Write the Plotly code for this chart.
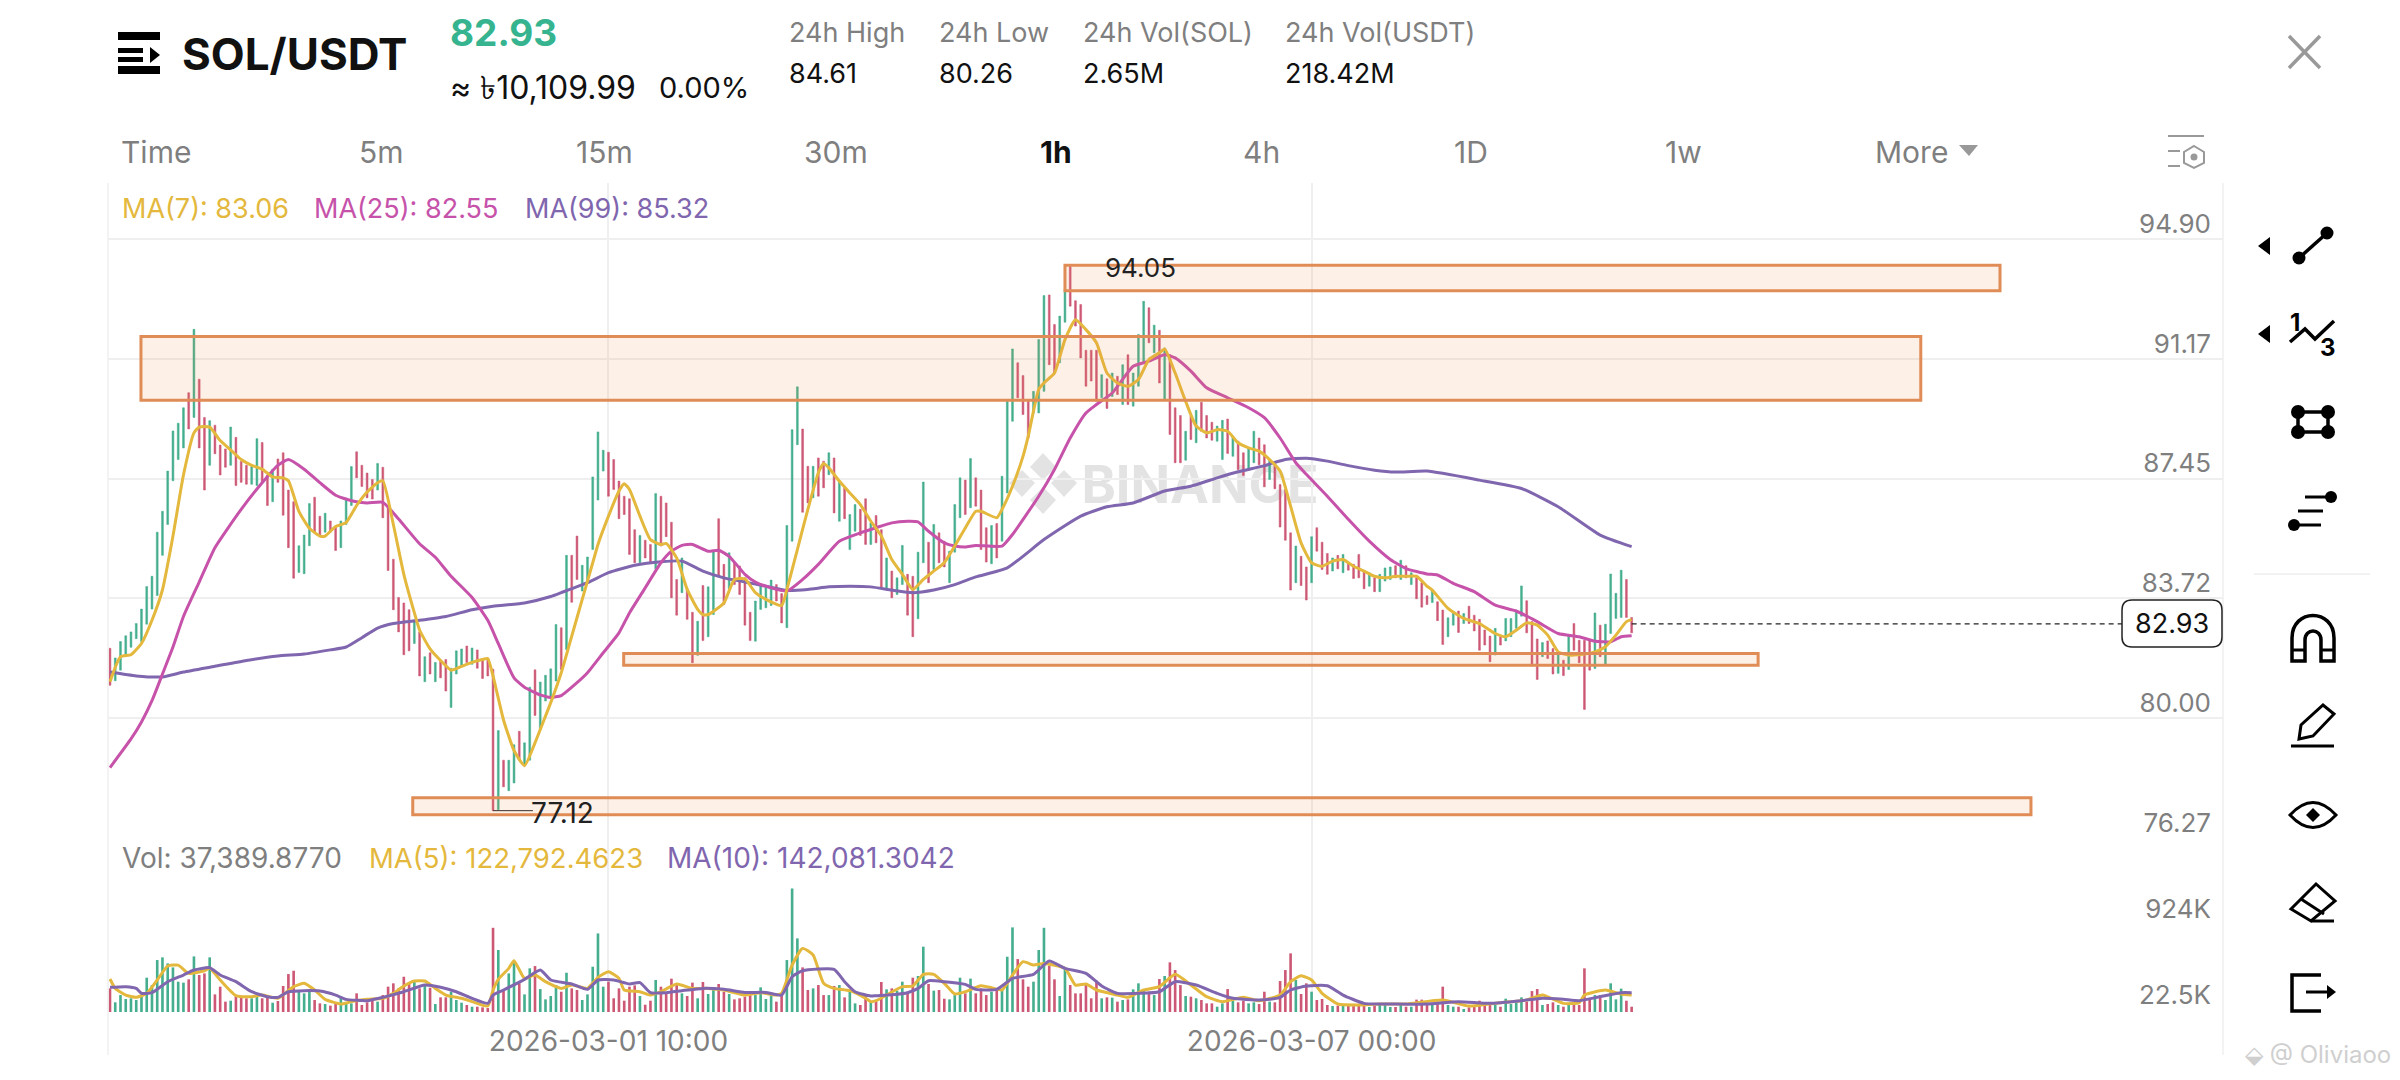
import pandas as pd
import plotly.graph_objects as go

# Candles, one per hour
start_time = pd.Timestamp('2026-02-25 11:00')

candle_high = [
    82.17,81.87,82.38,82.56,82.68,82.94,83.39,84.09,84.41,85.78,
    86.43,87.68,88.93,89.17,89.65,90.12,92.09,90.54,89.35,89.25,
    89.11,88.49,88.37,89.05,88.73,87.98,87.86,87.82,88.69,88.57,
    87.56,87.74,88.06,88.25,87.09,86.73,85.36,85.69,86.67,86.87,
    86.28,86.37,86.13,85.96,86.13,86.79,87.82,88.28,87.86,87.62,
    87.42,87.92,87.80,86.55,84.94,83.75,83.58,83.37,83.04,82.68,
    81.91,82.03,81.73,81.79,81.82,81.55,82.09,82.15,82.24,82.18,
    82.12,81.85,81.85,81.52,79.61,78.69,78.69,79.17,79.59,79.23,
    80.96,81.50,81.12,81.33,81.53,82.91,82.81,85.06,85.06,85.66,
    84.75,85.01,87.50,88.90,88.33,88.27,88.04,87.37,86.90,86.82,
    85.86,85.68,85.53,85.40,86.98,86.90,86.69,86.09,84.31,84.98,
    84.02,83.29,83.01,84.12,84.08,85.19,86.20,84.78,85.14,84.83,
    84.73,84.36,83.29,83.64,84.10,84.05,84.29,84.15,83.87,85.99,
    88.97,90.30,88.99,87.83,87.83,88.09,87.99,88.25,88.09,87.37,
    87.16,86.33,86.64,86.49,86.82,86.07,86.30,85.86,84.98,84.57,
    84.36,85.37,84.47,84.41,85.16,87.34,85.47,86.02,85.76,85.50,
    85.19,86.64,87.47,87.40,88.07,87.47,87.09,85.92,85.99,86.05,
    87.52,89.85,91.48,91.05,90.65,89.85,90.16,91.77,93.14,93.16,
    92.24,92.50,93.33,94.05,92.98,92.86,91.44,91.44,91.44,90.68,
    90.55,90.73,90.63,90.99,91.30,90.73,91.93,92.96,92.76,92.22,
    92.06,91.51,91.30,89.65,89.41,88.92,89.39,89.57,89.82,89.41,
    89.20,89.08,89.26,89.30,88.74,88.61,88.25,88.40,88.92,88.71,
    88.50,88.04,87.94,87.26,87.11,85.76,85.35,85.03,84.70,85.64,
    85.92,85.47,85.12,84.98,85.06,85.09,84.83,84.78,85.09,84.57,
    84.52,84.36,84.47,84.67,84.70,84.74,84.91,84.74,84.52,84.36,
    84.21,83.80,83.98,83.62,83.36,83.12,83.31,83.33,83.25,83.48,
    83.20,83.07,82.74,82.55,82.79,82.53,83.10,83.10,83.36,84.11,
    83.65,83.00,82.46,82.35,82.40,82.16,81.99,81.80,82.58,82.94,
    82.42,82.42,82.45,83.27,82.89,82.92,84.48,83.88,84.60,84.31,
    83.13,
]
candle_low = [
    81.02,81.16,81.49,81.97,82.20,82.47,82.38,82.92,83.39,83.81,
    85.06,86.02,87.38,88.04,88.40,88.99,89.35,88.40,87.09,87.86,
    88.22,87.56,87.80,87.86,87.23,87.33,87.27,87.27,87.23,87.33,
    86.61,86.73,87.33,86.31,85.30,84.35,84.53,84.49,85.36,85.78,
    85.66,85.78,85.78,85.21,85.30,86.02,86.61,87.47,87.20,86.85,
    86.81,87.09,86.23,84.59,83.37,82.68,81.97,82.09,82.32,81.31,
    81.13,81.37,81.13,81.25,80.84,80.33,81.37,81.61,81.73,81.67,
    81.55,81.23,81.31,77.12,77.15,77.86,77.74,77.98,78.69,78.52,
    78.69,80.08,79.65,80.53,80.68,81.15,81.51,82.13,83.60,84.31,
    83.95,84.21,85.24,86.78,87.68,86.90,87.11,86.20,86.33,85.09,
    84.83,84.83,84.98,84.83,84.64,85.35,85.64,83.74,83.20,83.90,
    83.07,81.72,81.95,82.41,82.53,83.22,84.41,83.53,84.02,84.15,
    83.84,82.89,82.41,82.39,83.38,83.43,83.50,83.64,82.96,82.81,
    85.50,88.50,86.40,86.69,86.85,86.90,87.16,87.57,86.38,86.12,
    86.20,85.24,85.81,85.68,85.40,85.40,85.45,84.05,84.00,83.74,
    83.84,84.15,83.20,82.53,83.09,84.83,84.21,84.62,84.83,84.70,
    84.21,85.16,86.23,86.33,86.54,86.59,85.24,84.85,84.80,84.98,
    85.50,87.00,89.23,89.96,89.44,88.71,89.49,89.49,90.16,90.99,
    90.73,91.05,92.31,92.81,92.19,91.20,90.32,90.48,89.85,89.96,
    89.63,90.00,90.06,89.75,89.75,89.70,90.32,91.05,91.67,91.36,
    90.42,89.91,88.82,87.94,87.94,88.02,88.66,88.56,88.92,88.71,
    88.64,88.61,88.04,88.23,88.14,87.73,87.54,87.71,87.94,87.88,
    87.19,87.42,87.13,85.94,85.53,83.98,84.21,84.12,83.67,84.21,
    85.19,84.62,84.47,84.57,84.64,84.52,84.60,84.34,84.36,84.02,
    84.10,83.93,83.93,84.26,84.31,84.36,84.31,84.36,84.15,83.71,
    83.45,83.53,83.59,83.03,82.29,82.53,82.89,82.66,82.94,82.94,
    82.71,82.11,82.27,81.75,81.96,82.27,82.40,82.53,82.79,83.17,
    82.65,81.62,81.20,81.91,81.85,81.37,81.39,81.32,81.51,82.11,
    81.72,80.27,81.49,81.54,81.91,81.65,82.63,83.10,83.13,83.13,
    82.65,
]
candle_dir = (
    'RGGGGGGGGG' 'GGGGGRGRRG' 'RRRGRRRGGR' 'RGRRRRGGGR' 'RGRRGGGRRR'
    'RGRRRRRRGR' 'GRGRRGGGRG' 'RRRRGRGGRG' 'GRGGGGRGRR' 'GGGGGRRRRR'
    'RGRRGRRRRG' 'RRGRGGRRGR' 'RRRGGGGRRG' 'GGRRGRRGRG' 'RGGRRGRRGR'
    'GGRRGGRGRR' 'GGGRGRRRGR' 'GGGRRRGGGR' 'RGGRRRRRRG' 'RGRGRGGGRG'
    'RGRRRGRGRR' 'RGGRGRRGGR' 'RGRRRRGRRG' 'RRRGRGRRRR' 'GRGGGRGRGR'
    'RRGRRGGRGR' 'RRRRGRGGGG' 'RRRGRRGRGR' 'RRRGRGGGGRR'
)

# Volume per candle, thousands
volume = [
    270,124,200,159,166,148,183,382,305,567,595,532,490,340,330,365,605,410,427,595,
    207,288,131,141,200,183,166,166,200,166,200,120,138,295,420,455,235,218,235,148,
    113,106,89,106,176,106,113,218,96,124,166,131,200,288,323,270,392,323,358,270,
    305,277,106,176,176,235,148,120,96,78,78,71,64,905,672,253,427,550,323,207,
    480,504,263,155,190,305,235,434,270,253,148,207,497,846,288,340,166,270,141,288,
    302,190,99,141,358,288,218,372,305,218,190,330,166,337,211,253,316,235,211,155,
    166,183,200,200,281,159,200,131,200,567,1317,794,490,253,270,305,200,200,295,305,
    176,235,113,96,200,131,141,337,260,270,246,340,235,382,400,707,316,246,253,162,
    155,200,382,218,372,218,270,200,235,253,253,602,909,577,365,288,340,672,905,508,
    365,190,480,305,218,218,305,166,351,166,176,173,131,148,155,260,323,260,235,200,
    368,400,543,462,305,190,183,166,148,113,113,78,113,263,141,124,141,113,124,106,
    235,131,124,347,462,637,358,211,323,235,148,159,96,85,89,89,85,85,92,96,
    75,89,106,106,75,75,113,78,78,152,152,106,96,106,288,96,78,78,54,71,
    85,141,96,127,96,78,162,106,141,176,131,242,263,96,106,124,96,78,120,96,
    96,480,166,200,200,148,323,155,267,141,78,
]

# Moving averages: candle number, value
ma7_idx = [0,2,4,6,8,10,12,14,16,17,19,21,23,25,27,29,31,33,34,36,38,40,41,43,45,47,49,51,52,54,56,58,59,61,63,65,67,69,71,72,73,75,77,79,81,83,
           84,86,88,90,92,93,95,97,98,99,101,103,105,106,108,110,112,113,114,117,119,121,123,125,128,129,131,133,135,136,137,139,141,143,145,147,149,151,153,155,157,159,161,163,165,
           166,169,170,172,174,175,177,178,180,182,184,186,188,190,192,194,196,198,200,201,203,205,207,209,211,213,215,217,219,221,223,225,227,229,231,233,235,237,239,241,243,245,247,249,251,
           252,255,258,261,264,266,268,270,272,274,276,278,281,283,285,287,289,290]
ma7_val = [81.13,81.91,81.97,82.32,83.04,83.99,85.66,87.56,88.87,89.05,89.05,88.63,88.34,88.04,87.86,87.74,87.5,87.47,87.38,86.43,85.9,85.66,85.66,85.96,86.08,86.61,87.03,87.32,87.38,86.02,84.47,83.28,82.74,82.15,81.79,81.49,81.61,81.73,81.82,81.85,81.31,79.94,78.99,78.52,79.23,80.06,
           80.48,81.41,82.55,83.69,84.83,85.4,86.28,87.06,87.29,87.11,86.28,85.55,85.4,85.43,84.98,84.0,83.38,83.22,83.22,83.58,84.31,84.33,83.9,83.69,83.5,84.0,85.24,86.49,87.63,87.92,87.78,87.37,87.0,86.64,86.12,85.66,84.93,84.47,84.0,84.31,84.57,84.83,85.35,85.91,86.43,
           86.43,86.23,86.49,87.21,88.14,88.77,90.22,90.42,90.73,91.77,92.39,92.08,91.67,90.73,90.42,90.32,90.53,91.15,91.36,91.48,90.73,89.85,89.08,88.87,88.97,88.92,88.56,88.4,88.3,88.04,87.68,86.59,85.45,84.83,84.72,84.88,84.93,84.72,84.57,84.41,84.36,84.41,84.41,84.41,84.1,
           83.98,83.41,83.1,82.94,82.63,82.53,82.73,82.96,82.89,82.58,82.06,81.96,81.99,82.06,82.22,82.58,83.0,83.06]

ma25_idx = [0,4,6,8,10,12,14,17,20,25,29,32,34,37,40,43,46,49,52,55,59,62,65,69,72,74,77,79,82,84,
            86,89,91,94,97,99,102,105,107,109,111,114,116,118,121,123,126,129,132,135,139,143,146,149,152,154,156,159,161,163,165,
            170,172,177,180,183,186,188,191,195,198,201,203,206,209,213,217,220,223,226,228,232,236,240,244,247,251,
            253,256,260,264,268,272,276,280,283,286,288,290]
ma25_val = [78.46,79.35,79.88,80.54,81.37,82.21,83.16,84.23,85.3,86.49,87.32,87.86,88.04,87.74,87.32,86.93,86.76,86.69,86.71,86.19,85.42,85.0,84.41,83.75,83.04,82.32,81.25,80.96,80.72,80.64,
            80.7,81.1,81.41,82.03,82.65,83.27,84.05,84.83,85.19,85.37,85.4,85.19,85.22,85.03,84.47,84.23,84.05,83.95,84.31,84.78,85.5,85.76,85.92,86.07,86.12,86.1,85.81,85.45,85.35,85.32,85.37,
            85.35,85.71,86.9,87.73,88.71,89.49,89.75,90.11,90.94,91.1,91.3,91.2,90.79,90.27,89.96,89.65,89.34,88.71,87.94,87.58,86.9,86.18,85.5,84.93,84.65,84.48,
            84.45,84.19,83.93,83.51,83.33,83.0,82.63,82.53,82.39,82.37,82.53,82.56]

ma99_idx = [0,5,10,14,20,26,32,37,42,45,48,51,54,59,64,69,73,79,84,
            86,91,95,100,105,109,113,117,121,125,129,133,137,141,145,149,153,157,161,165,
            171,178,185,190,195,201,206,211,215,220,224,228,232,236,241,245,251,261,269,276,284,290]
ma99_val = [81.43,81.31,81.28,81.43,81.61,81.79,81.93,81.99,82.12,82.21,82.5,82.8,82.94,83.04,83.16,83.37,83.48,83.58,83.78,
            83.9,84.21,84.52,84.75,84.86,84.88,84.57,84.36,84.23,84.1,83.97,84.0,84.08,84.1,84.08,83.98,83.9,83.98,84.15,84.39,
            84.67,85.55,86.28,86.57,86.69,87.06,87.21,87.47,87.66,87.85,88.04,88.08,87.99,87.85,87.71,87.65,87.68,87.4,87.14,86.57,85.69,85.33]

vol_ma5_idx = [0,1,3,5,7,9,11,13,15,18,19,21,24,27,29,32,35,37,39,41,44,46,49,52,54,56,58,60,62,64,67,69,72,
               73,74,76,77,79,81,83,86,88,91,93,95,97,98,101,103,105,108,111,114,117,121,124,127,128,130,132,134,136,138,141,144,145,
               146,148,151,153,155,157,159,161,163,166,168,170,172,174,176,178,182,184,186,188,192,194,197,200,203,206,209,212,216,219,
               223,225,227,229,231,234,238,242,247,254,259,265,270,273,277,280,281,285,288,290]
vol_ma5_val = [368,270,200,176,218,358,504,514,427,455,480,358,194,183,200,166,288,323,253,155,106,131,155,166,218,295,347,347,270,200,166,131,85,
               253,365,480,560,375,410,340,270,305,270,385,445,375,253,235,200,235,316,270,270,253,200,225,200,218,515,689,620,323,270,246,166,131,
               141,200,288,295,417,417,323,211,235,298,277,253,410,550,515,532,480,305,316,253,200,176,253,288,417,305,183,131,176,141,
               200,340,402,358,218,106,96,106,106,148,85,120,148,200,113,120,200,253,211,200]

vol_ma10_idx = [0,3,5,6,8,11,14,16,19,21,24,27,30,32,34,37,40,43,45,49,52,56,60,63,66,69,72,
                73,75,79,82,84,88,91,93,96,99,101,103,106,109,113,117,121,125,128,130,132,138,140,142,145,
                146,149,152,154,156,159,163,165,169,172,176,179,182,186,189,192,196,200,203,207,211,214,219,
                221,223,225,228,232,235,239,245,251,257,263,269,273,277,280,284,288,290]
vol_ma10_val = [281,288,270,218,225,340,410,462,487,410,340,235,183,176,235,246,242,200,155,141,176,235,305,281,235,166,113,
                200,253,365,462,358,316,260,358,358,316,330,225,225,246,270,260,228,228,200,392,455,469,340,235,190,
                194,204,225,270,350,340,312,260,260,375,417,557,480,427,295,218,218,235,340,305,218,166,148,
                155,176,253,295,298,200,113,106,106,131,113,141,166,155,141,183,225,225]

# Drawn zones: candle number of the ends, price of the edges
zone_left = [182.0, 5.9, 97.9, 57.7]
zone_right = [360.2, 345.1, 314.1, 366.1]
zone_top = [94.08, 91.87, 82.01, 77.52]
zone_bottom = [93.29, 89.88, 81.64, 76.99]

price_ticks = [94.90, 91.17, 87.45, 83.72, 80.00, 76.27]
price_labels = ['94.90', '91.17', '87.45', '83.72', '80.00', '76.27']
vol_ticks = [924, 22.5]
vol_labels = ['924K', '22.5K']
date_ticks = ['2026-03-01 10:00', '2026-03-07 00:00']
last_price = 82.93

GREEN = '#45ae8e'
RED = '#cd5875'
YELLOW = '#e4b83c'
MAGENTA = '#c652aa'
PURPLE = '#7f66ae'
GREY = '#7f7f7f'
GRID = '#efefef'
ORANGE = '#e08c56'
FONT = 'Inter'
W, H = 2400, 1080
RIGHT = 2223
TB = -7  # toolbar column offset


def when(i):
    return start_time + pd.Timedelta(hours=i)


times = [when(i) for i in range(len(candle_high))]
colors = [GREEN if c == 'G' else RED for c in candle_dir]
c_open = [l if c == 'G' else h for l, h, c in zip(candle_low, candle_high, candle_dir)]
c_close = [h if c == 'G' else l for l, h, c in zip(candle_low, candle_high, candle_dir)]

fig = go.Figure()
fig.add_trace(go.Candlestick(
    x=times, open=c_open, high=candle_high, low=candle_low, close=c_close,
    increasing=dict(line=dict(color=GREEN, width=0.5), fillcolor=GREEN),
    decreasing=dict(line=dict(color=RED, width=0.5), fillcolor=RED),
    showlegend=False, hoverinfo='skip', xaxis='x', yaxis='y'))


def add_line(idx, val, color, xaxis='x', yaxis='y', width=3):
    fig.add_trace(go.Scatter(
        x=[when(i) for i in idx], y=val, mode='lines',
        line=dict(color=color, width=width, shape='spline', smoothing=0.5),
        showlegend=False, hoverinfo='skip', xaxis=xaxis, yaxis=yaxis))


add_line(ma99_idx, ma99_val, PURPLE)
add_line(ma25_idx, ma25_val, MAGENTA)
add_line(ma7_idx, ma7_val, YELLOW)

# last price line and the high / low leaders
fig.add_trace(go.Scatter(
    x=[when(290), when(383.5)], y=[last_price, last_price], mode='lines',
    line=dict(color='#222222', width=1.3, dash='5px,4px'),
    showlegend=False, hoverinfo='skip'))
fig.add_trace(go.Scatter(
    x=[when(73), when(80.6)], y=[77.12, 77.12], mode='lines',
    line=dict(color='#222222', width=1),
    showlegend=False, hoverinfo='skip'))

fig.add_trace(go.Bar(
    x=times, y=volume, marker=dict(color=colors, line=dict(width=0)), width=1.8e6,
    showlegend=False, hoverinfo='skip', xaxis='x2', yaxis='y2'))
add_line(vol_ma5_idx, vol_ma5_val, YELLOW, 'x2', 'y2')
add_line(vol_ma10_idx, vol_ma10_val, PURPLE, 'x2', 'y2')


def px(x, y):
    return f'{x / W:.5f},{1 - y / H:.5f}'


shapes = []


def path(points, color='#000000', width=3, fill=None, close=False, layer='above'):
    d = 'M' + ' L'.join(px(*p) for p in points) + (' Z' if close else '')
    shapes.append(dict(type='path', path=d, xref='paper', yref='paper', layer=layer,
                       line=dict(color=color, width=width), fillcolor=fill))


def raw_path(parts, color='#000000', width=3, fill=None, layer='above'):
    d = ' '.join(parts)
    shapes.append(dict(type='path', path=d, xref='paper', yref='paper', layer=layer,
                       line=dict(color=color, width=width), fillcolor=fill))


def box(x0, y0, x1, y1, fill='#000000', line=0, color=None):
    shapes.append(dict(type='rect', xref='paper', yref='paper', x0=x0 / W, x1=x1 / W,
                       y0=1 - y0 / H, y1=1 - y1 / H, fillcolor=fill,
                       line=dict(width=line, color=color or fill)))


def dot(x, y, r=6.5, fill='#000000'):
    shapes.append(dict(type='circle', xref='paper', yref='paper', x0=(x - r) / W, x1=(x + r) / W,
                       y0=1 - (y + r) / H, y1=1 - (y - r) / H, fillcolor=fill, line=dict(width=0)))


def tb(points):
    return [(x + TB, y) for x, y in points]


# zones
for l, r, t, b in zip(zone_left, zone_right, zone_top, zone_bottom):
    shapes.append(dict(type='rect', xref='x', yref='y', x0=when(l), x1=when(r), y0=b, y1=t,
                       fillcolor='rgba(240,140,70,0.13)', line=dict(color=ORANGE, width=3), layer='above'))

# frame of the chart
path([(108, 183), (108, 1055)], GRID, 1.5)
path([(RIGHT, 183), (RIGHT, 1055)], GRID, 1.5)

# watermark
shapes.append(dict(type='rect', xref='paper', yref='paper', layer='below',
                   x0=1080 / W, x1=1320 / W, y0=1 - 510 / H, y1=1 - 455 / H,
                   line=dict(width=0), fillcolor='rgba(0,0,0,0)',
                   label=dict(text='<b>BINANCE</b>', font=dict(family=FONT, size=52, color='#e3e3e3'),
                              textposition='middle center')))
path([(1043, 453), (1056, 467), (1043, 480), (1030, 467)], '#e3e3e3', 0, '#e3e3e3', True, 'below')
path([(1043, 487), (1056, 500), (1043, 514), (1030, 500)], '#e3e3e3', 0, '#e3e3e3', True, 'below')
path([(1022, 470), (1035, 483), (1022, 497), (1009, 483)], '#e3e3e3', 0, '#e3e3e3', True, 'below')
path([(1064, 470), (1077, 483), (1064, 497), (1051, 483)], '#e3e3e3', 0, '#e3e3e3', True, 'below')

# logo
box(118, 32, 160, 40)
box(118, 66, 160, 74)
box(118, 48, 143, 53)
box(118, 57, 143, 62)
path([(150, 47), (160, 55), (150, 63)], '#000000', 0, '#000000', True)

# close button, more arrow, settings icon
path([(2289, 36), (2320, 68)], '#999999', 3.5)
path([(2320, 36), (2289, 68)], '#999999', 3.5)
path([(1959, 145), (1978, 145), (1969, 156)], '#999999', 0, '#999999', True)
path([(2168, 136), (2204, 136)], '#999999', 2)
path([(2168, 151), (2180, 151)], '#999999', 2)
path([(2168, 166), (2180, 166)], '#999999', 2)
path([(2194, 146), (2204, 152), (2204, 163), (2194, 168), (2184, 163), (2184, 152)], '#999999', 2, None, True)
dot(2194, 157, 3.5, '#999999')

# price label box
raw_path([
    'M' + px(2132, 600), 'L' + px(2212, 600), 'Q' + px(2222, 600) + ' ' + px(2222, 610),
    'L' + px(2222, 637), 'Q' + px(2222, 647) + ' ' + px(2212, 647), 'L' + px(2132, 647),
    'Q' + px(2122, 647) + ' ' + px(2122, 637), 'L' + px(2122, 610), 'Q' + px(2122, 600) + ' ' + px(2132, 600), 'Z',
], '#222222', 1.5, '#ffffff')

# toolbar
path(tb([(2277, 237), (2277, 255), (2265, 246)]), '#000000', 0, '#000000', True)
path(tb([(2306, 258), (2334, 233)]), '#000000', 3.5)
dot(2306 + TB, 258)
dot(2334 + TB, 233)
path(tb([(2277, 325), (2277, 343), (2265, 334)]), '#000000', 0, '#000000', True)
path(tb([(2297, 342), (2312, 329), (2322, 339), (2341, 321)]), '#000000', 3.5)
path(tb([(2305, 412), (2335, 412), (2335, 432), (2305, 432)]), '#000000', 3.5, None, True)
for cx, cy in [(2305, 412), (2335, 412), (2305, 432), (2335, 432)]:
    dot(cx + TB, cy, 7)
path(tb([(2312, 497), (2337, 497)]), '#000000', 3)
path(tb([(2305, 511), (2330, 511)]), '#000000', 3)
path(tb([(2302, 525), (2328, 525)]), '#000000', 3)
dot(2338 + TB, 497, 6)
dot(2301 + TB, 525, 6)
path(tb([(2261, 574), (2377, 574)]), '#eeeeee', 1.5)
magnet = [(2299, 661), (2299, 638), (2299, 608), (2341, 608), (2341, 638), (2341, 661),
          (2328, 661), (2328, 640), (2328, 628), (2312, 628), (2312, 640), (2312, 661)]
m = [px(*p) for p in tb(magnet)]
raw_path(['M' + m[0], 'L' + m[1], 'C' + m[2] + ' ' + m[3] + ' ' + m[4], 'L' + m[5], 'L' + m[6], 'L' + m[7],
          'C' + m[8] + ' ' + m[9] + ' ' + m[10], 'L' + m[11], 'Z'], '#000000', 3.5)
path(tb([(2299, 650), (2312, 650)]), '#000000', 3)
path(tb([(2328, 650), (2341, 650)]), '#000000', 3)
path(tb([(2306, 739), (2308, 725), (2330, 705), (2341, 714), (2320, 736)]), '#000000', 3, None, True)
path(tb([(2298, 746), (2341, 746)]), '#000000', 3)
e = [px(*p) for p in tb([(2297, 815), (2320, 790), (2343, 815), (2320, 840)])]
raw_path(['M' + e[0], 'Q' + e[1] + ' ' + e[2], 'Q' + e[3] + ' ' + e[0], 'Z'], '#000000', 3)
path(tb([(2320, 808), (2327, 815), (2320, 822), (2313, 815)]), '#000000', 0, '#000000', True)
path(tb([(2298, 909), (2323, 884), (2342, 901), (2318, 921)]), '#000000', 3, None, True)
path(tb([(2308, 899), (2331, 914)]), '#000000', 3)
path(tb([(2318, 921), (2341, 921)]), '#000000', 3)
path(tb([(2328, 975), (2299, 975), (2299, 1011), (2328, 1011)]), '#000000', 3.5)
path(tb([(2313, 992), (2340, 992)]), '#000000', 3)
path(tb([(2334, 985), (2343, 992), (2334, 999)]), '#000000', 0, '#000000', True)

annotations = []


def label(x, y, text, size=27, color='#000000', anchor='left', bold=False, family=FONT):
    annotations.append(dict(
        x=x / W, y=1 - y / H, xref='paper', yref='paper', xanchor=anchor, yanchor='middle',
        text=f'<b>{text}</b>' if bold else text, showarrow=False,
        font=dict(family=family, size=size, color=color)))


label(180, 54, 'SOL/USDT', 44, '#111111', bold=True)
label(448, 32, '82.93', 37, '#35b48f', bold=True)
label(448, 87, '≈ ৳10,109.99', 32, '#111111')
label(657, 87, '0.00%', 29, '#111111')

header_x = [787, 937, 1081, 1283]
header_names = ['24h High', '24h Low', '24h Vol(SOL)', '24h Vol(USDT)']
header_vals = ['84.61', '80.26', '2.65M', '218.42M']
for hx, hn, hv in zip(header_x, header_names, header_vals):
    label(hx, 32, hn, 27, GREY)
    label(hx, 73, hv, 27, '#111111')

tab_x = [119, 381, 604, 836, 1056, 1261, 1471, 1683]
tab_names = ['Time', '5m', '15m', '30m', '1h', '4h', '1D', '1w']
for i, (tx, tn) in enumerate(zip(tab_x, tab_names)):
    if tn == '1h':
        label(tx, 152, tn, 30, '#111111', 'center', bold=True)
    else:
        label(tx, 152, tn, 30, GREY, 'left' if tn == 'Time' else 'center')
label(1873, 152, 'More', 30, GREY)

label(120, 208, 'MA(7): 83.06', 27, YELLOW)
label(312, 208, 'MA(25): 82.55', 27, MAGENTA)
label(523, 208, 'MA(99): 85.32', 27, PURPLE)
label(120, 858, 'Vol: 37,389.8770', 28, GREY)
label(367, 858, 'MA(5): 122,792.4623', 27.5, YELLOW)
label(665, 858, 'MA(10): 142,081.3042', 28, PURPLE)

label(2172, 624, '82.93', 27, '#111111', 'center')
label(1103, 267, '94.05', 26, '#222222')
label(529, 813, '77.12', 28, '#222222')
label(2302 + TB, 322, '<b>1</b>', 24, '#000000', 'center')
label(2335 + TB, 348, '<b>3</b>', 24, '#000000', 'center')
label(2243, 1054, '⬙ @ Oliviaoo', 24, '#cfcfcf')

x_range = [when(-0.38), when(402.7)]
fig.update_layout(
    width=W, height=H, margin=dict(l=0, r=0, t=0, b=0),
    paper_bgcolor='white', plot_bgcolor='white', showlegend=False, boxgap=0.5,
    font=dict(family=FONT, color=GREY),
    shapes=shapes, annotations=annotations,
    xaxis=dict(domain=[108 / W, RIGHT / W], range=x_range, type='date', anchor='y',
               rangeslider=dict(visible=False), showticklabels=False, ticks='',
               tickvals=date_ticks, showgrid=True, gridcolor=GRID, gridwidth=1.5, zeroline=False),
    yaxis=dict(domain=[1 - 838 / H, 1 - 183 / H], range=[76.27, 96.64], side='right', anchor='x',
               tickvals=price_ticks, ticktext=price_labels, ticklabelposition='inside top',
               ticklabelstandoff=9, ticklabelshift=3,
               tickfont=dict(family=FONT, size=26, color=GREY), ticks='',
               showgrid=True, gridcolor=GRID, gridwidth=1.5, zeroline=False),
    xaxis2=dict(domain=[108 / W, RIGHT / W], range=x_range, type='date', anchor='y2',
                tickvals=date_ticks, ticktext=date_ticks, ticks='', ticklabelstandoff=10,
                tickfont=dict(family=FONT, size=28, color=GREY),
                showgrid=True, gridcolor=GRID, gridwidth=1.5, zeroline=False),
    yaxis2=dict(domain=[1 - 1012 / H, 1 - 838 / H], range=[22.5, 1846], side='right', anchor='x2',
                tickvals=vol_ticks, ticktext=vol_labels, ticklabelposition='inside top',
                ticklabelstandoff=9, ticklabelshift=1,
                tickfont=dict(family=FONT, size=26, color=GREY), ticks='',
                showgrid=False, zeroline=False),
)

fig.write_html("out.html", post_script="document.body.style.margin='0';",
               config={'displayModeBar': False})
